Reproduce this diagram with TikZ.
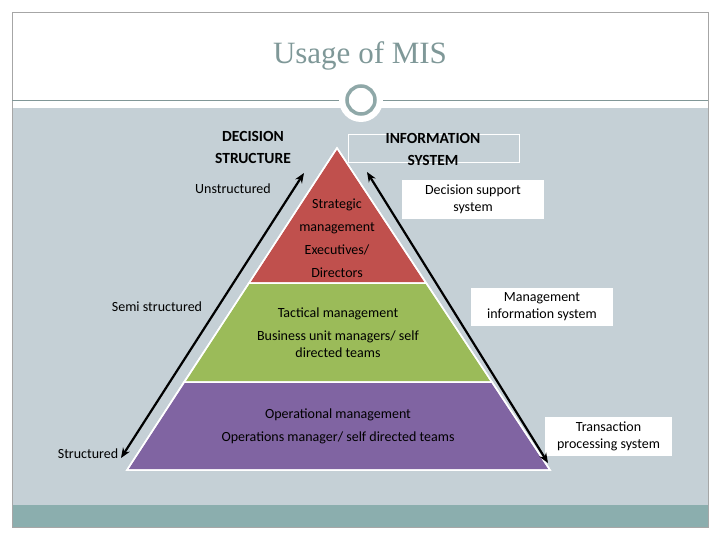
\documentclass[tikz,border=0pt]{standalone}
\usepackage{fontspec}
\setmainfont{Carlito}
\newfontfamily\titlefont{Liberation Serif}
\usetikzlibrary{arrows.meta}
\definecolor{panel}{HTML}{C5D0D6}
\definecolor{band}{HTML}{8BAEAE}
\definecolor{ttl}{HTML}{7F9898}
\definecolor{ring}{HTML}{8FA8A8}
\definecolor{lred}{HTML}{C0504D}
\definecolor{lgreen}{HTML}{9BBB59}
\definecolor{lpurple}{HTML}{8064A2}
\begin{document}
\begin{tikzpicture}[x=1pt,y=-1pt,
  txt/.style={font=\fontsize{14}{17}\selectfont, align=center, inner sep=1pt},
  hdr/.style={font=\fontsize{15.5}{22}\selectfont\bfseries, align=center},
  arr/.style={line width=2.2pt, {Stealth[length=10pt,width=8pt]}-{Stealth[length=10pt,width=8pt]}},
  layer/.style={draw=white, line width=1.5pt}]
\useasboundingbox (0,0) rectangle (720,540);
\fill[white] (0,0) rectangle (720,540);
\fill[panel] (12,108) rectangle (708,505);
\fill[band] (12,505) rectangle (708,527);
\draw[gray!70] (12,12) rectangle (708,527);
\draw[ring!90!black] (12,100) -- (708,100);
\node[font=\titlefont\fontsize{31}{34}\selectfont, text=ttl] (title) at (360,56) {Usage of MIS};
\node[circle, fill=white, minimum size=44pt] (halo) at (361,100) {};
\node[circle, draw=ring, line width=3.5pt, fill=white, minimum size=28pt] (ring) at (361,100) {};
% pyramid
\fill[layer, fill=lred] (337,148) -- (426,283) -- (249,283) -- cycle;
\fill[layer, fill=lgreen] (249,283) -- (426,283) -- (492,382) -- (184,382) -- cycle;
\fill[layer, fill=lpurple] (184,382) -- (492,382) -- (550,470) -- (127,470) -- cycle;
\draw[layer] (337,148) -- (550,470) -- (127,470) -- cycle;
% layer text
\node[txt, font=\fontsize{14}{23}\selectfont] (strat) at (337,238) {Strategic\\management\\Executives/\\Directors};
\node[txt] (tact) at (338,314) {Tactical management};
\node[txt] (bum) at (338,344) {Business unit managers/ self\\directed teams};
\node[txt] (op) at (338,415) {Operational management};
\node[txt] (opm) at (338,438) {Operations manager/ self directed teams};
% headers
\node[hdr] (ds) at (253,147) {DECISION\\STRUCTURE};
\draw[white, thick] (348,134) rectangle (519,162);
\node[hdr] (is) at (433,149) {INFORMATION\\SYSTEM};
% left labels
\node[txt] (uns) at (233,189) {Unstructured};
\node[txt] (semi) at (157,307) {Semi structured};
\node[txt] (str) at (88,454) {Structured};
% right boxes
\node[txt, fill=white, minimum width=142pt, minimum height=39pt] (dss) at (473,199.5) {Decision support\\system};
\node[txt, fill=white, minimum width=142pt, minimum height=38pt] (mis) at (542,307) {Management\\information system};
\node[txt, fill=white, minimum width=127pt, minimum height=39pt] (tps) at (608.5,436.5) {Transaction\\processing system};
% arrows
\coordinate (la) at (304,173);
\coordinate (lb) at (121,458);
\coordinate (ra) at (367,172);
\coordinate (rb) at (548,463);
\draw[arr] (lb) -- (la);
\draw[arr] (rb) -- (ra);
\end{tikzpicture}
\end{document}
